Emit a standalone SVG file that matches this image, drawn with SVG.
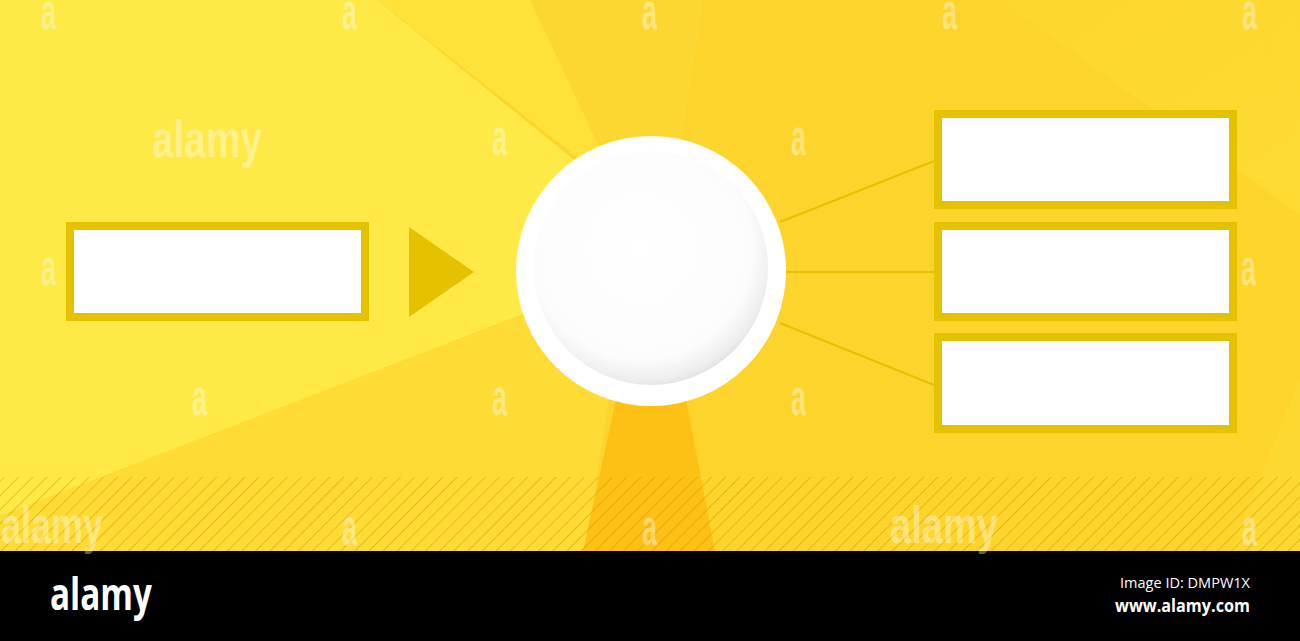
<svg xmlns="http://www.w3.org/2000/svg" width="1300" height="641" viewBox="0 0 1300 641">
<defs>
<style>
.box{fill:#ffffff;stroke:#e5c100;stroke-width:8}
.conn{stroke:#e5c100;stroke-width:2;fill:none}
.wm{fill:#ffffff;fill-opacity:0.38;font-family:"Liberation Sans",Arial,sans-serif;font-weight:bold;font-size:52px}
.foot{fill:#ffffff;font-family:"Open Sans","Noto Sans","Liberation Sans",sans-serif}
</style>
<radialGradient id="disc" cx="0.46" cy="0.42" r="0.62">
<stop offset="0" stop-color="#ffffff"/>
<stop offset="0.76" stop-color="#fcfcfc"/>
<stop offset="0.9" stop-color="#eeeeee"/>
<stop offset="1" stop-color="#d8d8d8"/>
</radialGradient>
<linearGradient id="tr" x1="0" y1="0" x2="1" y2="1">
<stop offset="0" stop-color="#fdd62d"/>
<stop offset="1" stop-color="#fedc33"/>
</linearGradient>
<pattern id="hatch" width="10" height="10" patternUnits="userSpaceOnUse" patternTransform="rotate(45)">
<line x1="0" y1="0" x2="0" y2="10" stroke="#c99400" stroke-opacity="0.75" stroke-width="1.3"/>
</pattern>
</defs>

<g id="background">
<rect x="0" y="0" width="1300" height="551" fill="#fdd42b"/>
<polygon points="1000,0 1300,0 1300,215" fill="url(#tr)"/>
<polygon points="1300,380 1300,551 1230,551" fill="#fdd830"/>
<polygon points="530,0 703,0 680,150 600,150" fill="#fdd731"/>
<polygon points="377,0 530,0 610,170 600,175" fill="#fee23a"/>
<polygon points="0,0 377,0 605,185 560,300 0,516" fill="#ffe946"/>
<polygon points="0,516 560,300 610,395 585,551 0,551" fill="#fedb35"/>
<polygon points="617,395 685,395 715,551 583,551" fill="#fdc015"/>
<rect x="0" y="477" width="1300" height="74" fill="url(#hatch)"/>
<rect x="0" y="551" width="1300" height="90" fill="#000000"/>
</g>

<g id="connectors">
<line class="conn" x1="780" y1="222" x2="934" y2="161"/>
<line class="conn" x1="786" y1="272" x2="934" y2="272"/>
<line class="conn" x1="780" y1="323" x2="934" y2="385"/>
</g>

<g id="node-input">
<rect class="box" x="70" y="226" width="295" height="91"/>
</g>
<g id="node-arrow">
<polygon points="409,227 474,272 409,317" fill="#e5c100"/>
</g>
<g id="node-center">
<circle cx="651" cy="271" r="135" fill="#ffffff"/>
<circle cx="651" cy="268" r="117" fill="url(#disc)"/>
</g>
<g id="node-out1">
<rect class="box" x="938" y="114" width="295" height="91"/>
</g>
<g id="node-out2">
<rect class="box" x="938" y="226" width="295" height="91"/>
</g>
<g id="node-out3">
<rect class="box" x="938" y="337" width="295" height="92"/>
</g>

<g id="watermarks">
<text class="wm" x="41" y="29" textLength="15" lengthAdjust="spacingAndGlyphs">a</text>
<text class="wm" x="342" y="29" textLength="15" lengthAdjust="spacingAndGlyphs">a</text>
<text class="wm" x="642" y="29" textLength="15" lengthAdjust="spacingAndGlyphs">a</text>
<text class="wm" x="942" y="29" textLength="15" lengthAdjust="spacingAndGlyphs">a</text>
<text class="wm" x="1242" y="29" textLength="15" lengthAdjust="spacingAndGlyphs">a</text>
<text class="wm" x="152" y="157" textLength="110" lengthAdjust="spacingAndGlyphs">alamy</text>
<text class="wm" x="492" y="155" textLength="15" lengthAdjust="spacingAndGlyphs">a</text>
<text class="wm" x="791" y="155" textLength="15" lengthAdjust="spacingAndGlyphs">a</text>
<text class="wm" x="41" y="285" textLength="15" lengthAdjust="spacingAndGlyphs">a</text>
<text class="wm" x="1241" y="285" textLength="15" lengthAdjust="spacingAndGlyphs">a</text>
<text class="wm" x="192" y="415" textLength="15" lengthAdjust="spacingAndGlyphs">a</text>
<text class="wm" x="492" y="415" textLength="15" lengthAdjust="spacingAndGlyphs">a</text>
<text class="wm" x="791" y="415" textLength="15" lengthAdjust="spacingAndGlyphs">a</text>
<text class="wm" x="1" y="543" textLength="102" lengthAdjust="spacingAndGlyphs">alamy</text>
<text class="wm" x="342" y="545" textLength="15" lengthAdjust="spacingAndGlyphs">a</text>
<text class="wm" x="642" y="545" textLength="15" lengthAdjust="spacingAndGlyphs">a</text>
<text class="wm" x="890" y="543" textLength="108" lengthAdjust="spacingAndGlyphs">alamy</text>
<text class="wm" x="1242" y="545" textLength="15" lengthAdjust="spacingAndGlyphs">a</text>
</g>

<g id="footer">
<text class="foot" x="50" y="610" font-size="45" font-weight="bold" font-family="Liberation Sans, Arial, sans-serif" textLength="102" lengthAdjust="spacingAndGlyphs">alamy</text>
<text class="foot" x="1120" y="588" font-size="15" textLength="130" lengthAdjust="spacingAndGlyphs">Image ID: DMPW1X</text>
<text class="foot" x="1115" y="612" font-size="17" font-weight="bold" textLength="135" lengthAdjust="spacingAndGlyphs">www.alamy.com</text>
</g>
</svg>
